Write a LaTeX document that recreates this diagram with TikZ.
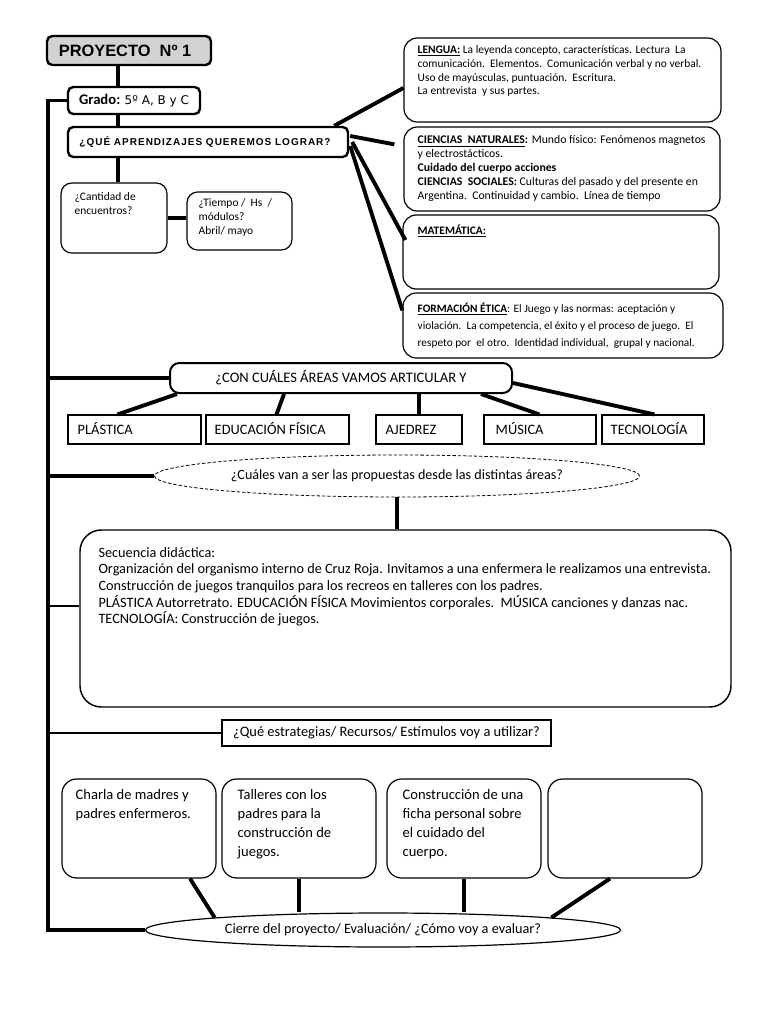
\documentclass[tikz,border=0pt]{standalone}
\usepackage{fontspec}
\setmainfont{Carlito}
\newfontfamily\headfont{Liberation Sans}
\newfontfamily\spacedfont[LetterSpace=10]{Liberation Sans}
\newfontfamily\gradofont{DejaVu Sans}
\usetikzlibrary{calc,fit,shapes.geometric}

\tikzset{
  rbox/.style={draw, line width=0.9pt, rounded corners=10pt, inner sep=0pt},
  hbox/.style={draw, line width=1.8pt, rounded corners=4pt, inner sep=0pt},
  sqbox/.style={draw, line width=0.8pt, inner sep=0pt},
  txt/.style={anchor=north west, inner sep=0pt, align=left},
  mid/.style={inner sep=0pt, anchor=center},
  link/.style={line width=2.9pt},
  bar/.style={line width=2.8pt},
}

\begin{document}
\begin{tikzpicture}[x=0.75pt,y=-0.75pt]
      \useasboundingbox (0,0) rectangle (768,1024);
      \coordinate (axis) at (118,0);
      \coordinate (spine) at (48,0);

      \node[hbox, fill=gray!35, fit={(47,36) (211,65)}] (proyecto) {};
      \node[mid, font=\headfont\bfseries\fontsize{12.3}{14}\selectfont] (proyectotxt) at ($(proyecto.center)+(-4,0)$) {PROYECTO\ \ Nº 1};
      \node[hbox, fit={(68,87) (200,114)}] (grado) {};
      \node[mid] (gradotxt) at (grado.center) {\fontsize{11}{13}\selectfont\textbf{Grado:} {\gradofont\fontsize{9}{11}\selectfont 5º A, B y C}};
      \node[hbox, fit={(68,127) (348,157)}] (que) {};
      \node[mid, font=\spacedfont\bfseries\fontsize{7.5}{9}\selectfont] (quetxt) at ($(que.center)+(-3,0)$) {¿QUÉ APRENDIZAJES QUEREMOS LOGRAR?};

      \node[rbox, rounded corners=8pt, fit={(61,183) (167,253)}] (cantidad) {};
      \node[txt, font=\fontsize{8.6}{10.5}\selectfont] (cantidadtxt) at ($(cantidad.north west)+(14,10)$) {¿Cantidad de\\encuentros?};
      \node[rbox, rounded corners=8pt, fit={(187,192) (292,250)}] (tiempo) {};
      \node[txt, font=\fontsize{8.6}{10.5}\selectfont] (tiempotxt) at ($(tiempo.north west)+(12,7)$) {¿Tiempo /\ \ Hs\ \ /\\módulos?\\Abril/ mayo};

      \node[rbox, fit={(404,38) (721,122)}] (lengua) {};
      \node[txt, font=\fontsize{8.6}{10.3}\selectfont] (lenguatxt) at ($(lengua.north west)+(14,8)$) {\underline{\textbf{LENGUA:}} La leyenda concepto, características. Lectura\ \ La\\comunicación.\ \ Elementos.\ \ Comunicación verbal y no verbal.\\Uso de mayúsculas, puntuación.\ \ Escritura.\\La entrevista\ \ y sus partes.};
      \node[rbox, fit={(404,127) (720,211)}] (ciencias) {};
      \node[txt, font=\fontsize{8.8}{10.4}\selectfont] (cienciastxt) at ($(ciencias.north west)+(14,9)$) {\underline{\textbf{CIENCIAS\ \ NATURALES}}\textbf{:} Mundo físico: Fenómenos magnetos\\y electrostácticos.\\\textbf{Cuidado del cuerpo acciones}\\\textbf{CIENCIAS\ \ SOCIALES:} Culturas del pasado y del presente en\\Argentina.\ \ Continuidad y cambio.\ \ Línea de tiempo};
      \node[rbox, fit={(403,215) (719,289)}] (matematica) {};
      \node[txt, font=\fontsize{8.6}{10.2}\selectfont] (matematicatxt) at ($(matematica.north west)+(15,10)$) {\underline{\textbf{MATEMÁTICA:}}};
      \node[rbox, fit={(403,293) (723,358)}] (formacion) {};
      \node[txt, font=\fontsize{8.5}{12.9}\selectfont] (formaciontxt) at ($(formacion.north west)+(15,10)$) {\underline{\textbf{FORMACIÓN ÉTICA}}: El Juego y las normas: aceptación y\\violación.\ \ La competencia, el éxito y el proceso de juego.\ \ El\\respeto por\ \ el otro.\ \ Identidad individual,\ \ grupal y nacional.};

      \draw[link] ($(que.north east)+(-15,0)$) -- ($(lengua.west)+(0,8)$);
      \draw[link] ($(que.east)+(1,-6)$) -- ($(ciencias.north west)+(-9,18)$);
      \draw[link] ($(que.east)+(3,0)$) -- ($(matematica.west)+(3,-12)$);
      \draw[link] ($(que.east)+(1,4)$) -- ($(formacion.west)+(0,-15)$);

      \draw[bar] (proyecto.south -| axis) -- (grado.north -| axis);
      \draw[bar] (grado.south -| axis) -- (que.north -| axis);
      \draw[bar] (que.south -| axis) -- (cantidad.north -| axis);
      \draw[bar] (cantidad.east) -- (cantidad.east -| tiempo.west);

      \node[draw, line width=1.5pt, rounded corners=7pt, inner sep=0pt, fit={(170,363) (512,393)}] (con) {};
      \node[mid, font=\fontsize{10.9}{13}\selectfont] (contxt) at (con.center) {¿CON CUÁLES ÁREAS VAMOS ARTICULAR Y};
      \node[sqbox, fit={(68,415) (201,444)}] (plastica) {};
      \node[sqbox, fit={(206,415) (349,444)}] (edfisica) {};
      \node[sqbox, fit={(376,415) (462,444)}] (ajedrez) {};
      \node[sqbox, fit={(484,415) (596,444)}] (musica) {};
      \node[sqbox, fit={(602,415) (704,444)}] (tecnologia) {};
      \node[txt, anchor=base west, font=\fontsize{10.8}{12}\selectfont] (plasticatxt) at ($(plastica.west)+(10,5)$) {PLÁSTICA};
      \node[txt, anchor=base west, font=\fontsize{10.8}{12}\selectfont] (edfisicatxt) at ($(edfisica.west)+(9,5)$) {EDUCACIÓN FÍSICA};
      \node[txt, anchor=base west, font=\fontsize{10.8}{12}\selectfont] (ajedreztxt) at ($(ajedrez.west)+(10,5)$) {AJEDREZ};
      \node[txt, anchor=base west, font=\fontsize{10.8}{12}\selectfont] (musicatxt) at ($(musica.west)+(12,5)$) {MÚSICA};
      \node[txt, anchor=base west, font=\fontsize{10.8}{12}\selectfont] (tecnologiatxt) at ($(tecnologia.west)+(9,5)$) {TECNOLOGÍA};

      \draw[link] ($(con.south west)+(8,0)$) -- ($(plastica.north west)+(50,0)$);
      \draw[link] ($(con.south west)+(115,0)$) -- ($(edfisica.north west)+(71,0)$);
      \draw[link] (ajedrez.north) -- (ajedrez.north |- con.south);
      \draw[link] ($(con.south east)+(-32,0)$) -- ($(musica.north west)+(56,0)$);
      \draw[link] ($(con.east)+(0,5)$) -- ($(tecnologia.north west)+(53,0)$);

      \node[draw, ellipse, dashed, dash pattern=on 2.5pt off 1.5pt, line width=0.6pt, inner sep=0pt, minimum width=363.75pt, minimum height=31.5pt, font=\fontsize{10.6}{12}\selectfont] (propuestas) at (397,476) {¿Cuáles van a ser las propuestas desde las distintas áreas?};

      \node[rbox, line width=1.1pt, rounded corners=16pt, fit={(80,530) (731,707)}] (secuencia) {};
      \node[txt, font=\fontsize{10.7}{12.4}\selectfont] (secuenciatxt) at ($(secuencia.north west)+(19,18)$) {Secuencia didáctica:\\Organización del organismo interno de Cruz Roja. Invitamos a una enfermera le realizamos una entrevista.\\Construcción de juegos tranquilos para los recreos en talleres con los padres.\\PLÁSTICA Autorretrato. EDUCACIÓN FÍSICA Movimientos corporales.\ \ MÚSICA canciones y danzas nac.\\TECNOLOGÍA: Construcción de juegos.};
      \draw[bar] (propuestas.south) -- (propuestas.south |- secuencia.north);

      \node[draw, line width=2pt, inner sep=0pt, fit={(222,720) (551,746)}] (estrategias) {};
      \node[mid, font=\fontsize{10.8}{12}\selectfont] (estrategiastxt) at (estrategias.center) {¿Qué estrategias/ Recursos/ Estímulos voy a utilizar?};

      \node[rbox, rounded corners=11pt, fit={(62,779) (216,878)}] (charla) {};
      \node[rbox, rounded corners=11pt, fit={(222,779) (376,878)}] (talleres) {};
      \node[rbox, rounded corners=11pt, fit={(387,779) (541,878)}] (construccion) {};
      \node[rbox, rounded corners=11pt, fit={(548,779) (702,878)}] (vacio) {};
      \node[txt, font=\fontsize{10.9}{14.25}\selectfont] (charlatxt) at ($(charla.north west)+(14,11)$) {Charla de madres y\\padres enfermeros.};
      \node[txt, font=\fontsize{10.9}{14.25}\selectfont] (tallerestxt) at ($(talleres.north west)+(16,11)$) {Talleres con los\\padres para la\\construcción de\\juegos.};
      \node[txt, font=\fontsize{10.9}{14.25}\selectfont] (construcciontxt) at ($(construccion.north west)+(16,11)$) {Construcción de una\\ficha personal sobre\\el cuidado del\\cuerpo.};

      \node[draw, ellipse, line width=0.9pt, inner sep=0pt, minimum width=356.25pt, minimum height=25.5pt, font=\fontsize{10.7}{12}\selectfont] (cierre) at (383,930) {Cierre del proyecto/ Evaluación/ ¿Cómo voy a evaluar?};

      \draw[link] ($(charla.south)+(51,0)$) -- (cierre.north west);
      \draw[link] (talleres.south) -- (talleres.south |- cierre.north);
      \draw[link] (construccion.south) -- (construccion.south |- cierre.north);
      \draw[link] ($(vacio.south)+(-15,0)$) -- (cierre.north east);

      \draw[bar] (grado.west) -- (grado.west -| spine) -- (cierre.west -| spine) -- (cierre.west);
      \draw[bar] (con.west -| spine) -- (con.west);
      \draw[bar] (propuestas.west -| spine) -- (propuestas.west);
      \draw[line width=1.5pt] ($(secuencia.west -| spine)+(0,-13)$) -- ($(secuencia.west)+(0,-13)$);
      \draw[line width=1.1pt] (estrategias.west -| spine) -- (estrategias.west);
    \end{tikzpicture}
\end{document}
